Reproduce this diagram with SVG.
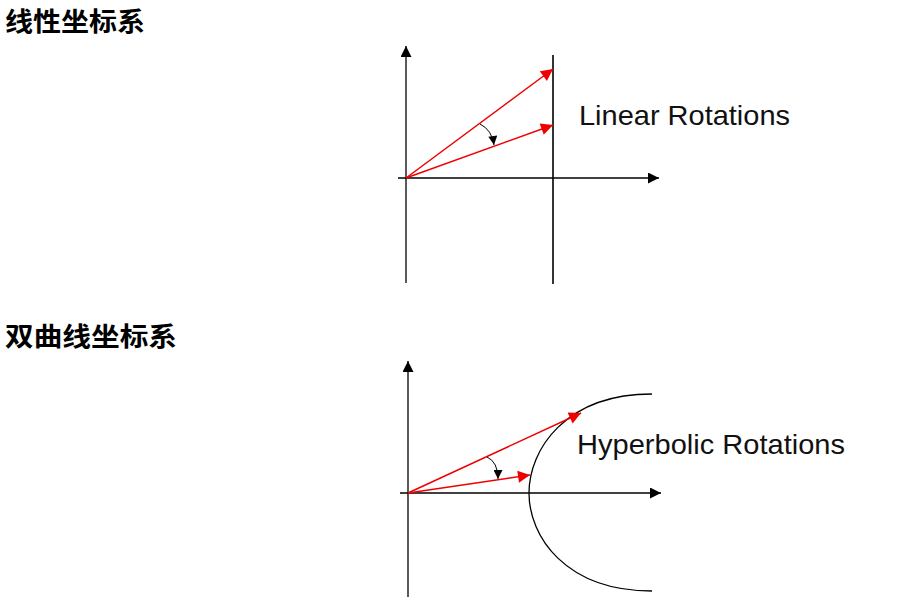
<svg xmlns="http://www.w3.org/2000/svg" width="908" height="606" viewBox="0 0 908 606">
<defs>
<marker id="ab" viewBox="0 0 10 10" refX="10" refY="5" markerWidth="18" markerHeight="11" markerUnits="userSpaceOnUse" orient="auto"><path d="M0,0 L10,5 L0,10 Z" fill="#000"/></marker>
<marker id="ar" viewBox="0 0 10 10" refX="10" refY="5" markerWidth="20" markerHeight="12" markerUnits="userSpaceOnUse" orient="auto"><path d="M0,0 L10,5 L0,10 Z" fill="#e00"/></marker>
<marker id="as" viewBox="0 0 10 10" refX="10" refY="5" markerWidth="10" markerHeight="9" markerUnits="userSpaceOnUse" orient="auto"><path d="M0,0 L10,5 L0,10 Z" fill="#000"/></marker>
</defs>
<style>
.ax{stroke:#000;stroke-width:1.3;fill:none}
.rv{stroke:#e00;stroke-width:1.5;fill:none}
.arc{stroke:#000;stroke-width:1;fill:none}
.t{font-family:"Liberation Sans",Arial,sans-serif;font-size:28px;fill:#111}
.h{font-family:"Noto Sans CJK SC",sans-serif;font-size:26px;font-weight:bold;fill:#000}
</style>
<rect width="908" height="606" fill="#fff"/>
<text class="h" x="5" y="31" textLength="140" lengthAdjust="spacingAndGlyphs">线性坐标系</text>
<text class="h" x="5" y="346" textLength="172" lengthAdjust="spacingAndGlyphs">双曲线坐标系</text>
<g id="linear">
<line class="ax" x1="406" y1="283" x2="406" y2="46" marker-end="url(#ab)"/>
<line class="ax" x1="398" y1="178" x2="659" y2="178" marker-end="url(#ab)"/>
<line class="ax" x1="553" y1="55" x2="553" y2="284" style="stroke-width:1.6"/>
<line class="rv" x1="406" y1="178" x2="553" y2="69" marker-end="url(#ar)"/>
<line class="rv" x1="406" y1="178" x2="553" y2="125" marker-end="url(#ar)"/>
<path class="arc" d="M480,124 Q492,130 494,145" marker-end="url(#as)"/>
<text class="t" x="579" y="125" textLength="211" lengthAdjust="spacingAndGlyphs">Linear Rotations</text>
</g>
<g id="hyperbolic">
<line class="ax" x1="408" y1="597" x2="408" y2="361" marker-end="url(#ab)"/>
<line class="ax" x1="400" y1="493" x2="661" y2="493" marker-end="url(#ab)"/>
<path class="ax" d="M652,394 C565,394 529,450 529,493 C529,536 565,591 652,591"/>
<line class="rv" x1="408" y1="493" x2="581" y2="413" marker-end="url(#ar)"/>
<line class="rv" x1="408" y1="493" x2="530" y2="475" marker-end="url(#ar)"/>
<path class="arc" d="M487,457 Q498,462 498,479" marker-end="url(#as)"/>
<text class="t" x="577" y="454" textLength="268" lengthAdjust="spacingAndGlyphs">Hyperbolic Rotations</text>
</g>
</svg>
